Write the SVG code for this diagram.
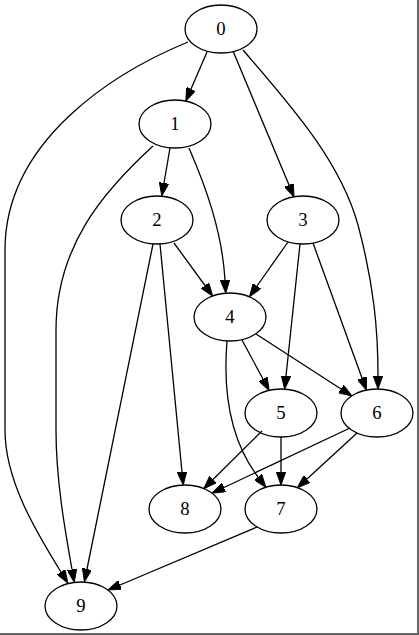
<svg xmlns="http://www.w3.org/2000/svg" width="419" height="635" viewBox="0 0 419 635">
<style>
.node ellipse{fill:none;stroke:#000;stroke-width:1.3}
.node text{font-family:"Liberation Serif","Times New Roman",serif;font-size:18.7px;text-anchor:middle;fill:#000}
.edges path{fill:none;stroke:#000;stroke-width:1.3;marker-end:url(#arr)}
</style>
<defs>
<marker id="arr" viewBox="0 0 13 9.4" refX="0" refY="4.7" markerWidth="13" markerHeight="9.4" markerUnits="userSpaceOnUse" orient="auto">
<path d="M0,0 L13,4.7 L0,9.4 z" fill="#000" stroke="#000" stroke-width="1"/>
</marker>
</defs>
<rect width="419" height="635" fill="#fff"/>
<path d="M418,0 L418,634 L0,634" fill="none" stroke="#666" stroke-width="2"/>
<g class="edges">
<path d="M207,52 L191,89"/>
<path d="M233,51 L289,185"/>
<path d="M243,50 C290,105 340,160 358,225 C374,285 378,330 378,376"/>
<path d="M188,42 C115,72 5,140 5,250 L5,430 C5,480 35,530 61,572"/>
<path d="M170,148 L164,183"/>
<path d="M153,146 C105,190 56,245 56,330 L56,430 C56,480 65,530 72,569.5"/>
<path d="M189,148 C205,185 222,230 225,280"/>
<path d="M174,243 L205,285.5"/>
<path d="M160,244 L182,472"/>
<path d="M153,244 L87,569"/>
<path d="M288,242 L257,286"/>
<path d="M300,244 L286,376"/>
<path d="M313,243 L362,378"/>
<path d="M242,340 L263,379"/>
<path d="M256,334 L341,389"/>
<path d="M227,341 C223,390 230,440 258,477"/>
<path d="M262,431 L213,479.5"/>
<path d="M281,437 L281,472"/>
<path d="M350,428 L224,487.5"/>
<path d="M357,433 L307,479"/>
<path d="M257,527 L120,585"/>
</g>
<g id="node0" class="node"><ellipse cx="221" cy="29" rx="36" ry="24"/><text x="221" y="35">0</text></g>
<g id="node1" class="node"><ellipse cx="175" cy="124" rx="36" ry="24"/><text x="175" y="130">1</text></g>
<g id="node2" class="node"><ellipse cx="157" cy="220" rx="36" ry="24"/><text x="157" y="226">2</text></g>
<g id="node3" class="node"><ellipse cx="303" cy="220" rx="36" ry="24"/><text x="303" y="226">3</text></g>
<g id="node4" class="node"><ellipse cx="230" cy="317" rx="36" ry="24"/><text x="230" y="323">4</text></g>
<g id="node5" class="node"><ellipse cx="281" cy="413" rx="36" ry="24"/><text x="281" y="419">5</text></g>
<g id="node6" class="node"><ellipse cx="377" cy="413" rx="36" ry="24"/><text x="377" y="419">6</text></g>
<g id="node7" class="node"><ellipse cx="281" cy="509" rx="36" ry="24"/><text x="281" y="515">7</text></g>
<g id="node8" class="node"><ellipse cx="185" cy="509" rx="36" ry="24"/><text x="185" y="515">8</text></g>
<g id="node9" class="node"><ellipse cx="81" cy="606" rx="36" ry="24"/><text x="81" y="612">9</text></g>
</svg>
